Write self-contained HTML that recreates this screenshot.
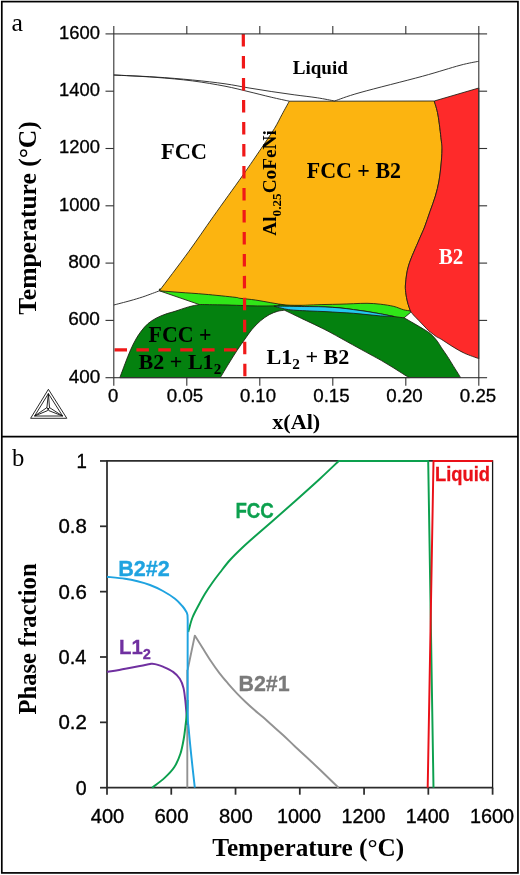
<!DOCTYPE html><html><head><meta charset="utf-8"><title>Phase diagram</title><style>html,body{margin:0;padding:0;background:#fff}svg{display:block}</style></head><body>
<svg width="520" height="875" viewBox="0 0 520 875">
<rect width="520" height="875" fill="#fff"/>
<g fill="none" stroke="#000" stroke-width="1.7"><rect x="1.8" y="1.6" width="516.15" height="871.3"/><line x1="1" y1="436.6" x2="518" y2="436.6" stroke-width="1.8"/></g>
<g stroke="#1c1c10" stroke-width="0.85" stroke-linejoin="round">
<path d="M119.80 377.70 C120.70 375.30 123.40 367.95 125.20 363.30 C127.00 358.65 128.80 353.85 130.60 349.80 C132.40 345.75 134.22 342.13 136.00 339.00 C137.78 335.87 139.30 333.57 141.30 331.00 C143.30 328.43 145.53 325.73 148.00 323.60 C150.47 321.47 153.17 319.78 156.10 318.20 C159.03 316.62 162.45 315.25 165.60 314.10 C168.75 312.95 171.18 312.50 175.00 311.30 C178.82 310.10 184.47 308.03 188.50 306.90 C192.53 305.77 197.42 304.90 199.20 304.50 L199.20 304.50 L230.00 300.00 L400.00 305.00 L404.10 317.80 L404.10 317.80 C405.78 318.77 410.92 321.68 414.20 323.60 C417.48 325.52 421.07 327.60 423.80 329.30 C426.53 331.00 428.35 331.82 430.60 333.80 C432.85 335.78 435.48 338.87 437.30 341.20 C439.12 343.53 439.80 345.25 441.50 347.80 C443.20 350.35 445.58 353.57 447.50 356.50 C449.42 359.43 450.82 361.90 453.00 365.40 C455.18 368.90 459.33 375.48 460.60 377.50 L460.60 377.50 L119.80 377.70Z" fill="#04810f"/>
<path d="M220.40 377.50 C221.75 375.25 225.70 368.55 228.50 364.00 C231.30 359.45 234.45 354.37 237.20 350.20 C239.95 346.03 242.53 342.47 245.00 339.00 C247.47 335.53 249.42 332.43 252.00 329.40 C254.58 326.37 257.63 323.25 260.50 320.80 C263.37 318.35 266.30 316.30 269.20 314.70 C272.10 313.10 275.32 311.93 277.90 311.20 C280.48 310.47 283.57 310.45 284.70 310.30 L284.70 310.30 C287.50 311.65 297.28 316.38 301.50 318.40 C305.72 320.42 306.92 320.93 310.00 322.40 C313.08 323.87 316.50 325.47 320.00 327.20 C323.50 328.93 325.62 329.90 331.00 332.80 C336.38 335.70 345.80 341.02 352.30 344.60 C358.80 348.18 365.13 351.63 370.00 354.30 C374.87 356.97 377.67 358.40 381.50 360.60 C385.33 362.80 389.15 365.12 393.00 367.50 C396.85 369.88 401.90 373.22 404.60 374.90 C407.30 376.58 408.43 377.15 409.20 377.60 L409.20 377.60 L220.40 377.60Z" fill="#fff"/>
<path d="M159.40 290.80 L199.20 304.50 L199.20 304.50 C202.22 304.55 211.08 304.67 217.30 304.80 C223.52 304.93 231.05 305.13 236.50 305.30 C241.95 305.47 245.25 305.68 250.00 305.80 C254.75 305.92 260.17 306.02 265.00 306.00 C269.83 305.98 276.67 305.75 279.00 305.70 L279.00 305.70 L279.00 300.00 L159.40 289.00Z" fill="#30e618"/>
<path d="M300.00 300.00 L405.00 300.00 L410.80 312.20 L404.10 317.80 L404.10 317.80 C402.42 317.58 397.95 317.17 394.00 316.50 C390.05 315.83 384.90 314.63 380.40 313.80 C375.90 312.97 371.48 312.20 367.00 311.50 C362.52 310.80 358.00 310.20 353.50 309.60 C349.00 309.00 344.75 308.35 340.00 307.90 C335.25 307.45 329.67 307.12 325.00 306.90 C320.33 306.68 315.92 306.67 312.00 306.60 C308.08 306.53 303.25 306.52 301.50 306.50Z" fill="#30e618"/>
<path d="M274.00 306.20 C276.00 306.20 281.42 306.15 286.00 306.20 C290.58 306.25 297.17 306.43 301.50 306.50 C305.83 306.57 308.08 306.53 312.00 306.60 C315.92 306.67 320.33 306.68 325.00 306.90 C329.67 307.12 335.25 307.45 340.00 307.90 C344.75 308.35 349.00 309.00 353.50 309.60 C358.00 310.20 362.52 310.80 367.00 311.50 C371.48 312.20 375.90 312.97 380.40 313.80 C384.90 314.63 391.73 316.05 394.00 316.50 L394.00 316.50 C391.73 316.40 384.90 316.22 380.40 315.90 C375.90 315.58 371.48 315.03 367.00 314.60 C362.52 314.17 358.00 313.65 353.50 313.30 C349.00 312.95 344.75 312.78 340.00 312.50 C335.25 312.22 330.00 311.85 325.00 311.60 C320.00 311.35 314.83 311.22 310.00 311.00 C305.17 310.78 300.00 310.60 296.00 310.30 C292.00 310.00 289.67 309.88 286.00 309.20 C282.33 308.52 276.00 306.70 274.00 306.20Z" fill="#22c8f0"/>
<path d="M434.25 101.00 C434.88 103.33 436.83 108.50 438.00 115.00 C439.17 121.50 440.58 134.17 441.25 140.00 C441.92 145.83 442.04 145.83 442.00 150.00 C441.96 154.17 441.50 159.83 441.00 165.00 C440.50 170.17 439.93 175.83 439.00 181.00 C438.07 186.17 436.90 190.92 435.40 196.00 C433.90 201.08 431.80 206.33 430.00 211.50 C428.20 216.67 426.43 222.25 424.60 227.00 C422.77 231.75 421.64 233.67 419.00 240.00 C416.36 246.33 410.98 257.83 408.75 265.00 C406.52 272.17 406.10 278.42 405.60 283.00 C405.10 287.58 405.43 289.33 405.75 292.50 C406.07 295.67 406.73 298.92 407.50 302.00 C408.27 305.08 409.92 309.50 410.40 311.00 L410.40 311.00 C409.22 310.78 406.07 310.47 403.30 309.70 C400.53 308.93 397.62 307.32 393.80 306.40 C389.98 305.48 384.87 304.72 380.40 304.20 C375.93 303.68 371.48 303.38 367.00 303.30 C362.52 303.22 358.00 303.55 353.50 303.70 C349.00 303.85 344.75 304.07 340.00 304.20 C335.25 304.33 330.00 304.37 325.00 304.50 C320.00 304.63 313.92 304.87 310.00 305.00 C306.08 305.13 305.50 305.30 301.50 305.30 C297.50 305.30 291.12 305.43 286.00 305.00 C280.88 304.57 275.90 303.53 270.80 302.70 C265.70 301.87 260.53 300.73 255.40 300.00 C250.27 299.27 243.40 298.75 240.00 298.30 C236.60 297.85 240.83 297.98 235.00 297.30 C229.17 296.62 214.17 295.07 205.00 294.25 C195.83 293.43 187.60 292.97 180.00 292.40 C172.40 291.82 162.83 291.07 159.40 290.80 L159.40 290.80 C164.25 284.32 179.48 264.32 188.50 251.90 C197.52 239.48 204.53 228.95 213.50 216.30 C222.47 203.65 234.38 187.25 242.30 176.00 C250.22 164.75 255.65 156.70 261.00 148.80 C266.35 140.90 270.90 134.32 274.40 128.60 C277.90 122.88 279.52 119.07 282.00 114.50 C284.48 109.93 288.08 103.42 289.30 101.20 L289.30 101.20 L336.00 101.20 L434.25 101.00Z" fill="#fcb410"/>
<path d="M434.25 101.00 L478.80 88.00 L478.80 358.75 L478.80 358.60 C476.43 357.72 468.88 355.25 464.60 353.30 C460.32 351.35 456.95 349.22 453.10 346.90 C449.25 344.58 444.30 341.12 441.50 339.40 C438.70 337.68 438.05 337.75 436.30 336.60 C434.55 335.45 432.27 333.47 431.00 332.50 C429.73 331.53 430.70 332.77 428.70 330.80 C426.70 328.83 421.53 323.33 419.00 320.70 C416.47 318.07 414.93 316.62 413.50 315.00 C412.07 313.38 410.92 311.67 410.40 311.00 L410.40 311.00 C409.92 309.50 408.27 305.08 407.50 302.00 C406.73 298.92 406.07 295.67 405.75 292.50 C405.43 289.33 405.10 287.58 405.60 283.00 C406.10 278.42 406.52 272.17 408.75 265.00 C410.98 257.83 416.36 246.33 419.00 240.00 C421.64 233.67 422.77 231.75 424.60 227.00 C426.43 222.25 428.20 216.67 430.00 211.50 C431.80 206.33 433.90 201.08 435.40 196.00 C436.90 190.92 438.07 186.17 439.00 181.00 C439.93 175.83 440.50 170.17 441.00 165.00 C441.50 159.83 441.96 154.17 442.00 150.00 C442.04 145.83 441.92 145.83 441.25 140.00 C440.58 134.17 439.17 121.50 438.00 115.00 C436.83 108.50 434.88 103.33 434.25 101.00Z" fill="#fe2a2a"/>
</g>
<g fill="none" stroke="#222" stroke-width="0.9">
<path d="M113.80 75.00 C120.67 75.33 141.88 76.17 155.00 77.00 C168.12 77.83 180.83 78.87 192.50 80.00 C204.17 81.13 215.75 82.50 225.00 83.80 C234.25 85.10 240.30 86.52 248.00 87.80 C255.70 89.08 263.50 90.33 271.20 91.50 C278.90 92.67 286.52 93.75 294.20 94.80 C301.88 95.85 310.57 96.77 317.30 97.80 C324.03 98.83 331.72 100.47 334.60 101.00"/>
<path d="M113.80 75.00 C120.67 75.38 141.88 76.32 155.00 77.30 C168.12 78.28 180.83 79.42 192.50 80.90 C204.17 82.38 215.75 84.43 225.00 86.20 C234.25 87.97 240.30 89.67 248.00 91.50 C255.70 93.33 264.32 95.58 271.20 97.20 C278.08 98.82 286.28 100.53 289.30 101.20"/>
<path d="M334.60 101.00 C338.83 99.60 345.35 96.72 360.00 92.60 C374.65 88.47 405.83 80.80 422.50 76.25 C439.17 71.70 450.62 67.80 460.00 65.30 C469.38 62.80 475.67 61.92 478.80 61.25"/>
<path d="M113.80 305.00 C116.50 304.29 125.22 302.08 130.00 300.75 C134.78 299.42 138.75 298.23 142.50 297.00 C146.25 295.77 149.68 294.43 152.50 293.40 C155.32 292.37 158.25 291.23 159.40 290.80"/>
</g>
<g stroke="#f01818" stroke-width="3.2" fill="none">
<line x1="243.3" y1="34.1" x2="244.9" y2="377.5" stroke-dasharray="12.5 9.48"/>
<line x1="114.5" y1="349.9" x2="244.6" y2="349.9" stroke-dasharray="12.5 9.4"/>
</g>
<g stroke="#333" stroke-width="1.1" fill="none">
<rect x="113.80" y="33.90" width="365.00" height="343.80"/>
<line x1="105.50" y1="377.70" x2="113.80" y2="377.70"/>
<line x1="478.80" y1="377.70" x2="487.10" y2="377.70"/>
<line x1="105.50" y1="320.40" x2="113.80" y2="320.40"/>
<line x1="478.80" y1="320.40" x2="487.10" y2="320.40"/>
<line x1="105.50" y1="263.10" x2="113.80" y2="263.10"/>
<line x1="478.80" y1="263.10" x2="487.10" y2="263.10"/>
<line x1="105.50" y1="205.80" x2="113.80" y2="205.80"/>
<line x1="478.80" y1="205.80" x2="487.10" y2="205.80"/>
<line x1="105.50" y1="148.50" x2="113.80" y2="148.50"/>
<line x1="478.80" y1="148.50" x2="487.10" y2="148.50"/>
<line x1="105.50" y1="91.20" x2="113.80" y2="91.20"/>
<line x1="478.80" y1="91.20" x2="487.10" y2="91.20"/>
<line x1="105.50" y1="33.90" x2="113.80" y2="33.90"/>
<line x1="478.80" y1="33.90" x2="487.10" y2="33.90"/>
<line x1="113.80" y1="25.90" x2="113.80" y2="33.90"/>
<line x1="113.80" y1="377.70" x2="113.80" y2="385.70"/>
<line x1="186.80" y1="25.90" x2="186.80" y2="33.90"/>
<line x1="186.80" y1="377.70" x2="186.80" y2="385.70"/>
<line x1="259.80" y1="25.90" x2="259.80" y2="33.90"/>
<line x1="259.80" y1="377.70" x2="259.80" y2="385.70"/>
<line x1="332.80" y1="25.90" x2="332.80" y2="33.90"/>
<line x1="332.80" y1="377.70" x2="332.80" y2="385.70"/>
<line x1="405.80" y1="25.90" x2="405.80" y2="33.90"/>
<line x1="405.80" y1="377.70" x2="405.80" y2="385.70"/>
<line x1="478.80" y1="25.90" x2="478.80" y2="33.90"/>
<line x1="478.80" y1="377.70" x2="478.80" y2="385.70"/>
</g>
<g stroke="#111" stroke-width="0.9" fill="none" stroke-linejoin="miter">
<path d="M48.4 389.3 L30.6 418.3 L66.8 418.3 Z"/>
<path d="M48.4 393.6 L34.6 416 L62.6 416 Z"/>
<path d="M48.4 393.6 L46.9 407.6 L48.2 409 L49.5 407.6 Z"/>
<path d="M34.6 416 L46.9 407.6 L48.2 409 L47.6 410.6 Z"/>
<path d="M62.6 416 L49.5 407.6 L48.2 409 L48.8 410.6 Z"/>
</g>
<g stroke="#2c2c2c" stroke-width="1.75" fill="none">
<path d="M492.60 460.95 L107.00 460.95 L107.00 787.70 L492.60 787.70"/>
<line x1="492.60" y1="460.15" x2="492.60" y2="788.50" stroke="#161616" stroke-width="1.3"/>
<line x1="100.00" y1="787.70" x2="107.00" y2="787.70"/>
<line x1="100.00" y1="722.35" x2="107.00" y2="722.35"/>
<line x1="100.00" y1="657.00" x2="107.00" y2="657.00"/>
<line x1="100.00" y1="591.65" x2="107.00" y2="591.65"/>
<line x1="100.00" y1="526.30" x2="107.00" y2="526.30"/>
<line x1="100.00" y1="460.95" x2="107.00" y2="460.95"/>
<line x1="107.00" y1="787.70" x2="107.00" y2="794.70"/>
<line x1="171.27" y1="787.70" x2="171.27" y2="794.70"/>
<line x1="235.53" y1="787.70" x2="235.53" y2="794.70"/>
<line x1="299.80" y1="787.70" x2="299.80" y2="794.70"/>
<line x1="364.07" y1="787.70" x2="364.07" y2="794.70"/>
<line x1="428.33" y1="787.70" x2="428.33" y2="794.70"/>
<line x1="492.60" y1="787.70" x2="492.60" y2="794.70"/>
</g>
<g fill="none" stroke-width="1.95" stroke-linejoin="round" stroke-linecap="butt">
<path d="M187.30 787.70 L187.30 670.00" stroke="#929292" stroke-width="1.9"/>
<path d="M187.60 670.00 L194.80 635.60 L194.80 635.60 C196.05 637.58 199.60 643.22 202.30 647.50 C205.00 651.78 208.12 656.98 211.00 661.30 C213.88 665.62 216.72 669.65 219.60 673.40 C222.48 677.15 225.42 680.48 228.30 683.80 C231.18 687.12 234.02 690.27 236.90 693.30 C239.78 696.33 242.72 699.25 245.60 702.00 C248.48 704.75 251.32 707.30 254.20 709.80 C257.08 712.30 260.02 714.50 262.90 717.00 C265.78 719.50 268.15 721.80 271.50 724.80 C274.85 727.80 279.08 731.38 283.00 735.00 C286.92 738.62 290.92 742.67 295.00 746.50 C299.08 750.33 303.33 754.12 307.50 758.00 C311.67 761.88 314.82 764.85 320.00 769.80 C325.18 774.75 335.50 784.72 338.60 787.70" stroke="#929292" stroke-width="1.9"/>
<path d="M107.00 671.90 C109.03 671.58 113.95 670.93 119.20 670.00 C124.45 669.07 133.18 667.35 138.50 666.30 C143.82 665.25 149.00 664.13 151.10 663.70 L151.10 663.70 C152.08 663.85 154.93 664.07 157.00 664.60 C159.07 665.13 160.82 665.68 163.50 666.90 C166.18 668.12 170.38 669.92 173.10 671.90 C175.82 673.88 178.07 676.10 179.80 678.80 C181.53 681.50 182.57 684.32 183.50 688.10 C184.43 691.88 184.92 697.33 185.40 701.50 C185.88 705.67 186.08 709.18 186.40 713.10 C186.72 717.02 187.15 723.02 187.30 725.00" stroke="#7030a0"/>
<path d="M152.10 787.70 C154.18 786.07 160.92 781.30 164.60 777.90 C168.28 774.50 171.57 771.32 174.20 767.30 C176.83 763.28 178.80 758.60 180.40 753.80 C182.00 749.00 182.90 743.63 183.80 738.50 C184.70 733.37 185.25 727.50 185.80 723.00 C186.35 718.50 186.80 715.33 187.10 711.50 C187.40 707.67 187.52 701.92 187.60 700.00" stroke="#0ca04e"/>
<path d="M188.30 632.00 C188.40 631.58 188.20 631.92 188.90 629.50 C189.60 627.08 190.86 621.58 192.50 617.50 C194.14 613.42 196.67 608.96 198.75 605.00 C200.83 601.04 202.71 597.50 205.00 593.75 C207.29 590.00 210.00 586.04 212.50 582.50 C215.00 578.96 217.08 576.25 220.00 572.50 C222.92 568.75 226.25 564.17 230.00 560.00 C233.75 555.83 238.33 551.46 242.50 547.50 C246.67 543.54 249.79 540.83 255.00 536.25 C260.21 531.67 267.08 525.83 273.75 520.00 C280.42 514.17 287.29 508.12 295.00 501.25 C302.71 494.38 312.71 485.46 320.00 478.75 C327.29 472.04 335.62 463.96 338.75 461.00 L338.75 461.00 L428.20 461.00 L433.50 787.70" stroke="#0ca04e"/>
<path d="M107.00 576.75 C110.00 577.08 119.92 578.00 125.00 578.75 C130.08 579.50 133.33 580.21 137.50 581.25 C141.67 582.29 145.83 583.42 150.00 585.00 C154.17 586.58 158.33 588.46 162.50 590.75 C166.67 593.04 171.67 596.17 175.00 598.75 C178.33 601.33 180.62 604.08 182.50 606.25 C184.38 608.42 185.47 610.34 186.30 611.80 C187.13 613.26 187.30 614.47 187.50 615.00 L187.70 620.00 C187.70 635.00 187.53 691.87 187.70 710.00 C187.87 728.13 188.07 720.85 188.70 728.80 C189.33 736.75 190.48 747.88 191.50 757.70 C192.52 767.52 194.25 782.70 194.80 787.70" stroke="#1fa3e0"/>
<path d="M427.7 787.7 L433.5 461 L492.6 461" stroke="#ea1018"/>
</g>
<text x="11.50" y="30.60" font-family='"Liberation Serif", serif' font-size="26" font-weight="normal" fill="#000" textLength="11.46" lengthAdjust="spacingAndGlyphs">a</text>
<text x="12.05" y="466.10" font-family='"Liberation Serif", serif' font-size="26" font-weight="normal" fill="#000" textLength="12.33" lengthAdjust="spacingAndGlyphs">b</text>
<text x="59.10" y="39.00" font-family='"Liberation Sans", sans-serif' font-size="17.6" font-weight="normal" fill="#000" stroke="#000" stroke-width="0.3" textLength="40.86" lengthAdjust="spacingAndGlyphs">1600</text>
<text x="59.10" y="96.00" font-family='"Liberation Sans", sans-serif' font-size="17.6" font-weight="normal" fill="#000" stroke="#000" stroke-width="0.3" textLength="40.86" lengthAdjust="spacingAndGlyphs">1400</text>
<text x="59.10" y="153.40" font-family='"Liberation Sans", sans-serif' font-size="17.6" font-weight="normal" fill="#000" stroke="#000" stroke-width="0.3" textLength="40.86" lengthAdjust="spacingAndGlyphs">1200</text>
<text x="59.10" y="210.70" font-family='"Liberation Sans", sans-serif' font-size="17.6" font-weight="normal" fill="#000" stroke="#000" stroke-width="0.3" textLength="40.86" lengthAdjust="spacingAndGlyphs">1000</text>
<text x="68.20" y="268.20" font-family='"Liberation Sans", sans-serif' font-size="17.6" font-weight="normal" fill="#000" stroke="#000" stroke-width="0.3" textLength="31.99" lengthAdjust="spacingAndGlyphs">800</text>
<text x="68.20" y="325.40" font-family='"Liberation Sans", sans-serif' font-size="17.6" font-weight="normal" fill="#000" stroke="#000" stroke-width="0.3" textLength="31.75" lengthAdjust="spacingAndGlyphs">600</text>
<text x="68.70" y="382.90" font-family='"Liberation Sans", sans-serif' font-size="17.6" font-weight="normal" fill="#000" stroke="#000" stroke-width="0.3" textLength="31.44" lengthAdjust="spacingAndGlyphs">400</text>
<text x="108.00" y="402.30" font-family='"Liberation Sans", sans-serif' font-size="17.6" font-weight="normal" fill="#000" stroke="#000" stroke-width="0.3" textLength="10.29" lengthAdjust="spacingAndGlyphs">0</text>
<text x="166.85" y="402.30" font-family='"Liberation Sans", sans-serif' font-size="17.6" font-weight="normal" fill="#000" stroke="#000" stroke-width="0.3" textLength="36.39" lengthAdjust="spacingAndGlyphs">0.05</text>
<text x="239.90" y="402.30" font-family='"Liberation Sans", sans-serif' font-size="17.6" font-weight="normal" fill="#000" stroke="#000" stroke-width="0.3" textLength="36.09" lengthAdjust="spacingAndGlyphs">0.10</text>
<text x="313.25" y="402.30" font-family='"Liberation Sans", sans-serif' font-size="17.6" font-weight="normal" fill="#000" stroke="#000" stroke-width="0.3" textLength="36.45" lengthAdjust="spacingAndGlyphs">0.15</text>
<text x="386.35" y="402.30" font-family='"Liberation Sans", sans-serif' font-size="17.6" font-weight="normal" fill="#000" stroke="#000" stroke-width="0.3" textLength="36.39" lengthAdjust="spacingAndGlyphs">0.20</text>
<text x="459.85" y="402.30" font-family='"Liberation Sans", sans-serif' font-size="17.6" font-weight="normal" fill="#000" stroke="#000" stroke-width="0.3" textLength="36.39" lengthAdjust="spacingAndGlyphs">0.25</text>
<text x="272.15" y="428.70" font-family='"Liberation Serif", serif' font-size="20" font-weight="bold" fill="#000" textLength="48.09" lengthAdjust="spacingAndGlyphs">x(Al)</text>
<text transform="translate(35.80 314.80) rotate(-90)" font-family='"Liberation Serif", serif' font-size="25.7" font-weight="bold" fill="#000" textLength="193.53" lengthAdjust="spacingAndGlyphs">Temperature (°C)</text>
<text x="160.95" y="158.60" font-family='"Liberation Serif", serif' font-size="22.3" font-weight="bold" fill="#000" textLength="46.10" lengthAdjust="spacingAndGlyphs">FCC</text>
<text x="292.75" y="74.30" font-family='"Liberation Serif", serif' font-size="19.2" font-weight="bold" fill="#000" textLength="55.11" lengthAdjust="spacingAndGlyphs">Liquid</text>
<text x="306.75" y="178.30" font-family='"Liberation Serif", serif' font-size="22.3" font-weight="bold" fill="#000" textLength="94.26" lengthAdjust="spacingAndGlyphs">FCC + B2</text>
<text x="438.65" y="264.20" font-family='"Liberation Serif", serif' font-size="22.3" font-weight="bold" fill="#fff" textLength="24.64" lengthAdjust="spacingAndGlyphs">B2</text>
<text x="148.60" y="341.60" font-family='"Liberation Serif", serif' font-size="22.2" font-weight="bold" fill="#000" textLength="62.91" lengthAdjust="spacingAndGlyphs">FCC +</text>
<text x="138.50" y="368.75" font-family='"Liberation Serif", serif' font-size="21" font-weight="bold" fill="#000" textLength="82.77" lengthAdjust="spacingAndGlyphs">B2 + L1<tspan font-size="14.5" dy="5.5">2</tspan></text>
<text x="266.40" y="363.60" font-family='"Liberation Serif", serif' font-size="21" font-weight="bold" fill="#000" textLength="82.99" lengthAdjust="spacingAndGlyphs">L1<tspan font-size="14.5" dy="5.5">2</tspan><tspan dy="-5.5"> + B2</tspan></text>
<text transform="translate(275.80 235.65) rotate(-90)" font-family='"Liberation Serif", serif' font-size="19.6" font-weight="bold" fill="#000" textLength="105.51" lengthAdjust="spacingAndGlyphs">Al<tspan font-size="13.4" dy="5.2">0.25</tspan><tspan dy="-5.2">CoFeNi</tspan></text>
<text x="76.40" y="467.95" font-family='"Liberation Sans", sans-serif' font-size="19.6" font-weight="normal" fill="#000" stroke="#000" stroke-width="0.35" textLength="10.36" lengthAdjust="spacingAndGlyphs">1</text>
<text x="58.50" y="533.30" font-family='"Liberation Sans", sans-serif' font-size="19.6" font-weight="normal" fill="#000" stroke="#000" stroke-width="0.35" textLength="28.42" lengthAdjust="spacingAndGlyphs">0.8</text>
<text x="58.50" y="598.65" font-family='"Liberation Sans", sans-serif' font-size="19.6" font-weight="normal" fill="#000" stroke="#000" stroke-width="0.35" textLength="28.42" lengthAdjust="spacingAndGlyphs">0.6</text>
<text x="58.50" y="664.00" font-family='"Liberation Sans", sans-serif' font-size="19.6" font-weight="normal" fill="#000" stroke="#000" stroke-width="0.35" textLength="27.91" lengthAdjust="spacingAndGlyphs">0.4</text>
<text x="58.50" y="729.35" font-family='"Liberation Sans", sans-serif' font-size="19.6" font-weight="normal" fill="#000" stroke="#000" stroke-width="0.35" textLength="28.42" lengthAdjust="spacingAndGlyphs">0.2</text>
<text x="75.80" y="794.70" font-family='"Liberation Sans", sans-serif' font-size="19.6" font-weight="normal" fill="#000" stroke="#000" stroke-width="0.35" textLength="10.92" lengthAdjust="spacingAndGlyphs">0</text>
<text x="90.75" y="823.30" font-family='"Liberation Sans", sans-serif' font-size="20" font-weight="normal" fill="#000" stroke="#000" stroke-width="0.35" textLength="33.49" lengthAdjust="spacingAndGlyphs">400</text>
<text x="154.47" y="823.30" font-family='"Liberation Sans", sans-serif' font-size="20" font-weight="normal" fill="#000" stroke="#000" stroke-width="0.35" textLength="34.04" lengthAdjust="spacingAndGlyphs">600</text>
<text x="218.93" y="823.30" font-family='"Liberation Sans", sans-serif' font-size="20" font-weight="normal" fill="#000" stroke="#000" stroke-width="0.35" textLength="33.78" lengthAdjust="spacingAndGlyphs">800</text>
<text x="277.05" y="823.30" font-family='"Liberation Sans", sans-serif' font-size="20" font-weight="normal" fill="#000" stroke="#000" stroke-width="0.35" textLength="44.11" lengthAdjust="spacingAndGlyphs">1000</text>
<text x="341.52" y="823.30" font-family='"Liberation Sans", sans-serif' font-size="20" font-weight="normal" fill="#000" stroke="#000" stroke-width="0.35" textLength="43.84" lengthAdjust="spacingAndGlyphs">1200</text>
<text x="405.73" y="823.30" font-family='"Liberation Sans", sans-serif' font-size="20" font-weight="normal" fill="#000" stroke="#000" stroke-width="0.35" textLength="43.84" lengthAdjust="spacingAndGlyphs">1400</text>
<text x="469.95" y="823.30" font-family='"Liberation Sans", sans-serif' font-size="20" font-weight="normal" fill="#000" stroke="#000" stroke-width="0.35" textLength="44.10" lengthAdjust="spacingAndGlyphs">1600</text>
<text x="212.35" y="856.30" font-family='"Liberation Serif", serif' font-size="24.5" font-weight="bold" fill="#000" textLength="191.91" lengthAdjust="spacingAndGlyphs">Temperature (°C)</text>
<text transform="translate(35.80 714.50) rotate(-90)" font-family='"Liberation Serif", serif' font-size="25.5" font-weight="bold" fill="#000" textLength="151.11" lengthAdjust="spacingAndGlyphs">Phase fraction</text>
<text x="435.10" y="480.50" font-family='"Liberation Sans", sans-serif' font-size="19.3" font-weight="bold" fill="#ea1018" stroke="#ea1018" stroke-width="0.3" textLength="54.90" lengthAdjust="spacingAndGlyphs">Liquid</text>
<text x="235.40" y="518.20" font-family='"Liberation Sans", sans-serif' font-size="21.6" font-weight="bold" fill="#0ca04e" stroke="#0ca04e" stroke-width="0.3" textLength="38.43" lengthAdjust="spacingAndGlyphs">FCC</text>
<text x="118.15" y="575.80" font-family='"Liberation Sans", sans-serif' font-size="21.2" font-weight="bold" fill="#1fa3e0" stroke="#1fa3e0" stroke-width="0.3" textLength="51.68" lengthAdjust="spacingAndGlyphs">B2#2</text>
<text x="238.45" y="691.10" font-family='"Liberation Sans", sans-serif' font-size="21.6" font-weight="bold" fill="#7a7a7a" stroke="#7a7a7a" stroke-width="0.3" textLength="51.22" lengthAdjust="spacingAndGlyphs">B2#1</text>
<text x="118.95" y="653.70" font-family='"Liberation Sans", sans-serif' font-size="21" font-weight="bold" fill="#7030a0" stroke="#7030a0" stroke-width="0.3" textLength="31.88" lengthAdjust="spacingAndGlyphs">L1<tspan font-size="15" dy="5.6">2</tspan></text>
</svg></body></html>
